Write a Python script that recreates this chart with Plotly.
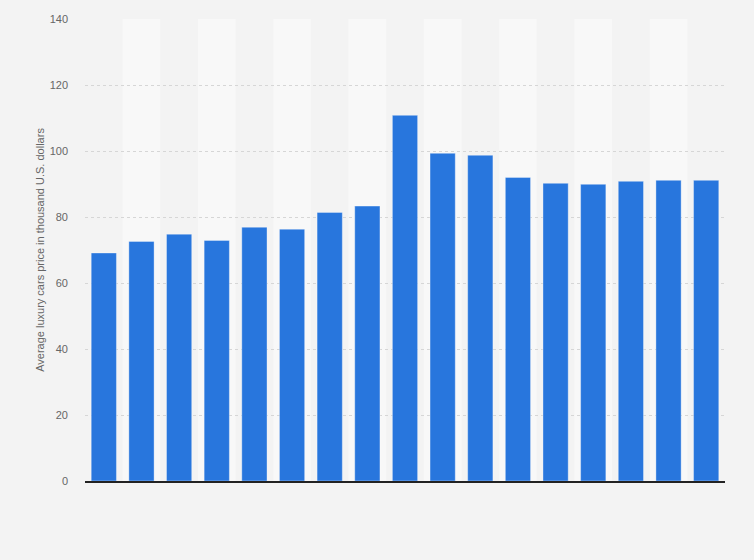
import plotly.graph_objects as go

# ----------------- DATA ----------------- #

years = [str(y) for y in range(2005, 2022)]
avg_price = [69.1, 72.6, 74.8, 72.9, 76.9, 76.3, 81.4, 83.3, 110.8,
             99.3, 98.7, 92.0, 90.2, 89.9, 90.8, 91.1, 91.1]

y_ticks = [0, 20, 40, 60, 80, 100, 120, 140]

BG = "#f3f3f3"
BAND = "#f8f8f8"
BAR = "#2876dd"

# ----------------- PLOT ----------------- #

fig = go.Figure()

fig.add_trace(go.Bar(
    x=years,
    y=avg_price,
    marker=dict(color=BAR, line=dict(color="rgba(255,255,255,0.35)", width=1)),
    hoverinfo="x+y",
))

# alternating light column bands behind every second category
for i, yr in enumerate(years):
    if i % 2 == 1:
        fig.add_shape(type="rect", xref="x", yref="paper",
                      x0=i - 0.5, x1=i + 0.5, y0=0, y1=1,
                      fillcolor=BAND, line=dict(width=0), layer="below")

fig.update_layout(
    width=754, height=560,
    paper_bgcolor=BG, plot_bgcolor=BG,
    margin=dict(l=85, r=29, t=19, b=79),
    bargap=0.33,
    showlegend=False,
    font=dict(family="Liberation Sans, Arial, sans-serif", size=11, color="#666666"),
)

fig.update_xaxes(
    type="category",
    showticklabels=False,
    showgrid=False,
    showline=True, linecolor="#222222", linewidth=1.5,
    ticks="",
    range=[-0.5, len(years) - 0.5],
)

fig.update_yaxes(
    range=[0, 140],
    tickvals=y_ticks,
    showgrid=True, gridcolor="#d6d6d6", griddash="dot", gridwidth=1,
    zeroline=False,
    ticks="", ticklabelstandoff=16,
    title=dict(text="Average luxury cars price in thousand U.S. dollars",
               font=dict(size=11, color="#666666"), standoff=2),
)

# drop the browser's default body margin so the chart sits at the page corner
fig.write_html("out.html",
               config={"displayModeBar": False},
               post_script="document.body.style.margin='0';document.body.style.background='%s';" % BG)
